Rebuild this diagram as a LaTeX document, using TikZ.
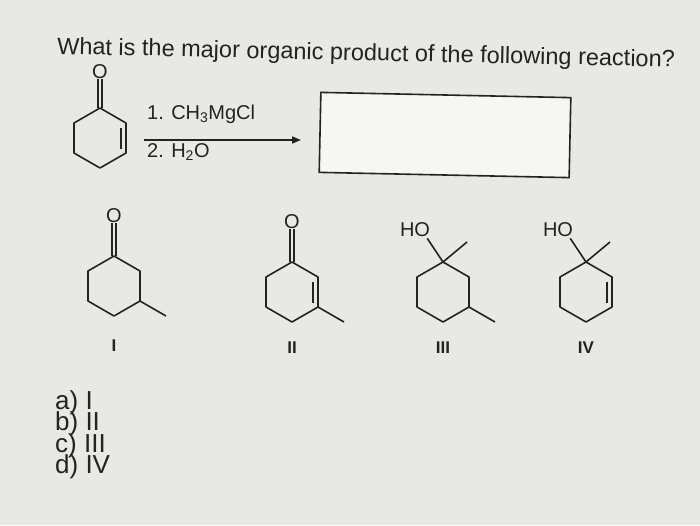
\documentclass[tikz,border=0pt]{standalone}
\usepackage{fontspec}
\setmainfont{Liberation Sans}
\usetikzlibrary{arrows.meta,calc}
\definecolor{bg}{RGB}{232,232,230}
\definecolor{ink}{RGB}{35,35,35}
\begin{document}
\begin{tikzpicture}[x=1pt,y=-1pt,
  bond/.style={draw=ink,line width=1.6pt,line join=round},
  lbl/.style={text=ink,font=\fontsize{20}{20}\selectfont,inner sep=0pt},
  num/.style={text=ink,font=\bfseries\fontsize{17}{17}\selectfont,inner sep=0pt},
  title/.style={text=ink,font=\fontsize{23.5}{24}\selectfont,inner sep=0pt,anchor=west},
  ans/.style={text=ink,font=\fontsize{26}{26}\selectfont,inner sep=0pt,anchor=west}]
\fill[bg] (0,0) rectangle (700,525);
\useasboundingbox (0,0) rectangle (700,525);
\node[title,rotate=-1.2] (t) at (57,48) {What is the major organic product of the following reaction?};
\foreach \n/\cx/\cy in {s/100/138, a/114/286, b/292/292, c/443/292, d/586/292}{
  \foreach \k/\ang in {1/90,2/30,3/-30,4/-90,5/-150,6/150}{
    \coordinate (\n\k) at ($(\cx,\cy)+(\ang:30 and -30)$);
  }
}
\draw[bond] (s1)--(s2)--(s3)--(s4)--(s5)--(s6)--cycle;
\draw[bond] ($(s2)!0.15!(s3)+(-5,0)$)--($(s3)!0.15!(s2)+(-5,0)$);
\node[lbl] (so) at ($(s1)+(0,-36)$) {O};
\draw[bond] ($(s1)+(-2,0)$)--($(so.south)+(-2,0)$);
\draw[bond] ($(s1)+(2,0)$)--($(so.south)+(2,0)$);
\coordinate (ar1) at (144,140);
\coordinate (ar2) at (301,140);
\draw[draw=ink,line width=1.6pt,-{Triangle[length=9pt,width=7pt]}] (ar1)--(ar2);
\node[lbl,anchor=west] (r1) at (147,114) {1. CH\textsubscript{3}MgCl};
\node[lbl,anchor=west] (r2) at (147,152) {2. H\textsubscript{2}O};
\node[draw=ink,line width=1.6pt,fill=white!60!bg,minimum width=250pt,minimum height=80pt,rotate=-1.2] (box) at (445,135) {};
\draw[bond] (a1)--(a2)--(a3)--(a4)--(a5)--(a6)--cycle;
\node[lbl] (ao) at ($(a1)+(0,-40)$) {O};
\draw[bond] ($(a1)+(-2,0)$)--($(ao.south)+(-2,0)$);
\draw[bond] ($(a1)+(2,0)$)--($(ao.south)+(2,0)$);
\coordinate (am) at ($(a3)+(26,15)$);
\draw[bond] (a3)--(am);
\node[num] (la) at ($(a4)+(0,30)$) {I};
\draw[bond] (b1)--(b2)--(b3)--(b4)--(b5)--(b6)--cycle;
\draw[bond] ($(b2)!0.15!(b3)+(-5,0)$)--($(b3)!0.15!(b2)+(-5,0)$);
\node[lbl] (bo) at ($(b1)+(0,-40)$) {O};
\draw[bond] ($(b1)+(-2,0)$)--($(bo.south)+(-2,0)$);
\draw[bond] ($(b1)+(2,0)$)--($(bo.south)+(2,0)$);
\coordinate (bm) at ($(b3)+(26,15)$);
\draw[bond] (b3)--(bm);
\node[num] (lb) at ($(b4)+(0,26)$) {II};
\draw[bond] (c1)--(c2)--(c3)--(c4)--(c5)--(c6)--cycle;
\node[lbl] (co) at ($(c1)+(-28,-32)$) {HO};
\draw[bond] (c1)--($(co.south east)+(-3,1)$);
\coordinate (cme) at ($(c1)+(24,-20)$);
\draw[bond] (c1)--(cme);
\coordinate (cm) at ($(c3)+(26,15)$);
\draw[bond] (c3)--(cm);
\node[num] (lc) at ($(c4)+(0,26)$) {III};
\draw[bond] (d1)--(d2)--(d3)--(d4)--(d5)--(d6)--cycle;
\draw[bond] ($(d2)!0.15!(d3)+(-5,0)$)--($(d3)!0.15!(d2)+(-5,0)$);
\node[lbl] (dho) at ($(d1)+(-28,-32)$) {HO};
\draw[bond] (d1)--($(dho.south east)+(-3,1)$);
\coordinate (dme) at ($(d1)+(24,-20)$);
\draw[bond] (d1)--(dme);
\node[num] (ld) at ($(d4)+(0,26)$) {IV};
\node[ans] (a) at (55,403) {a) I};
\node[ans] (b) at (55,424) {b) II};
\node[ans] (c) at (55,446) {c) III};
\node[ans] (d) at (55,467) {d) IV};
\end{tikzpicture}
\end{document}
